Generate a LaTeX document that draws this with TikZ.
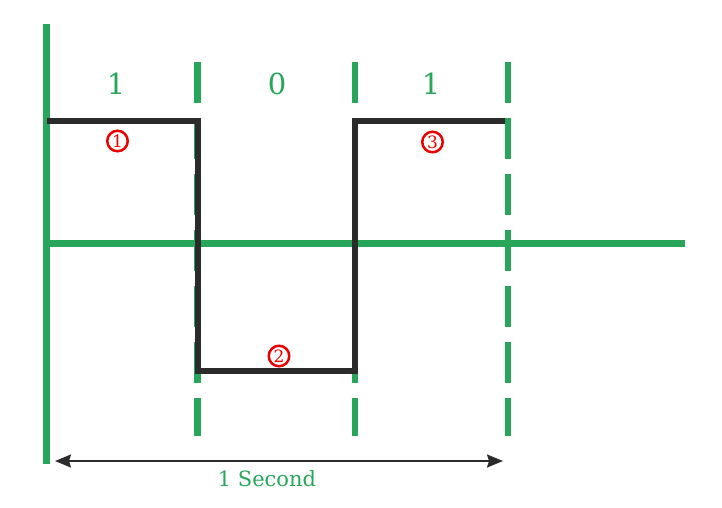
\documentclass[tikz,border=0pt]{standalone}
\usepackage{fontspec}
\setmainfont{DejaVu Serif}
\usetikzlibrary{arrows.meta}
\definecolor{sgreen}{RGB}{39,166,90}
\definecolor{sblack}{RGB}{43,43,43}
\definecolor{sred}{RGB}{235,0,0}
\begin{document}
\begin{tikzpicture}[x=1pt,y=-1pt,
  axisline/.style={draw=sgreen,line width=7pt},
  bitline/.style={draw=sgreen,line width=6.5pt,dash pattern=on 41pt off 15pt},
  signal/.style={draw=sblack,line width=6pt},
  bitlabel/.style={text=sgreen,font=\fontsize{29}{32}\selectfont,inner sep=0pt},
  circnum/.style={circle,draw=sred,line width=2.5pt,text=sred,minimum size=20.5pt,inner sep=0pt,font=\fontsize{17}{18}\selectfont},
  spanarrow/.style={draw=sblack,line width=2pt,{Stealth[length=16pt,width=13pt,inset=2pt]}-{Stealth[length=16pt,width=13pt,inset=2pt]}},
  spanlabel/.style={text=sgreen,font=\fontsize{21}{24}\selectfont,inner sep=0pt}]
\useasboundingbox (0,0) rectangle (722,507);
% axes
\coordinate (vtop) at (46.5,24);
\coordinate (vbot) at (46.5,464);
\coordinate (hl) at (46,243);
\coordinate (hr) at (685,243);
\draw[axisline] (vtop) -- (vbot);
\draw[axisline] (hl) -- (hr);
% bit boundaries
\coordinate (d1t) at (197.5,62); \coordinate (d1b) at (197.5,436);
\coordinate (d2t) at (355,62);   \coordinate (d2b) at (355,436);
\coordinate (d3t) at (508,62);   \coordinate (d3b) at (508,436);
\draw[bitline] (d1t) -- (d1b);
\draw[bitline] (d2t) -- (d2b);
\draw[bitline] (d3t) -- (d3b);
% signal
\coordinate (s0) at (47,121);
\coordinate (s1) at (197.5,121);
\coordinate (s2) at (197.5,371);
\coordinate (s3) at (355,371);
\coordinate (s4) at (355,121);
\coordinate (s5) at (505,121);
\draw[signal] (s0) -- (s1) -- (s2) -- (s3) -- (s4) -- (s5);
% bit labels
\node[bitlabel] (b1) at (116,84) {1};
\node[bitlabel] (b0) at (277,84) {0};
\node[bitlabel] (b3) at (431,84) {1};
% circled numbers
\node[circnum] (c1) at (117.5,141) {1};
\node[circnum] (c2) at (279,356) {2};
\node[circnum] (c3) at (432.5,142) {3};
% span arrow
\coordinate (al) at (55,461);
\coordinate (ar) at (503,461);
\draw[spanarrow] (al) -- (ar);
\node[spanlabel] (sec) at (267,479) {1 Second};
\end{tikzpicture}
\end{document}
